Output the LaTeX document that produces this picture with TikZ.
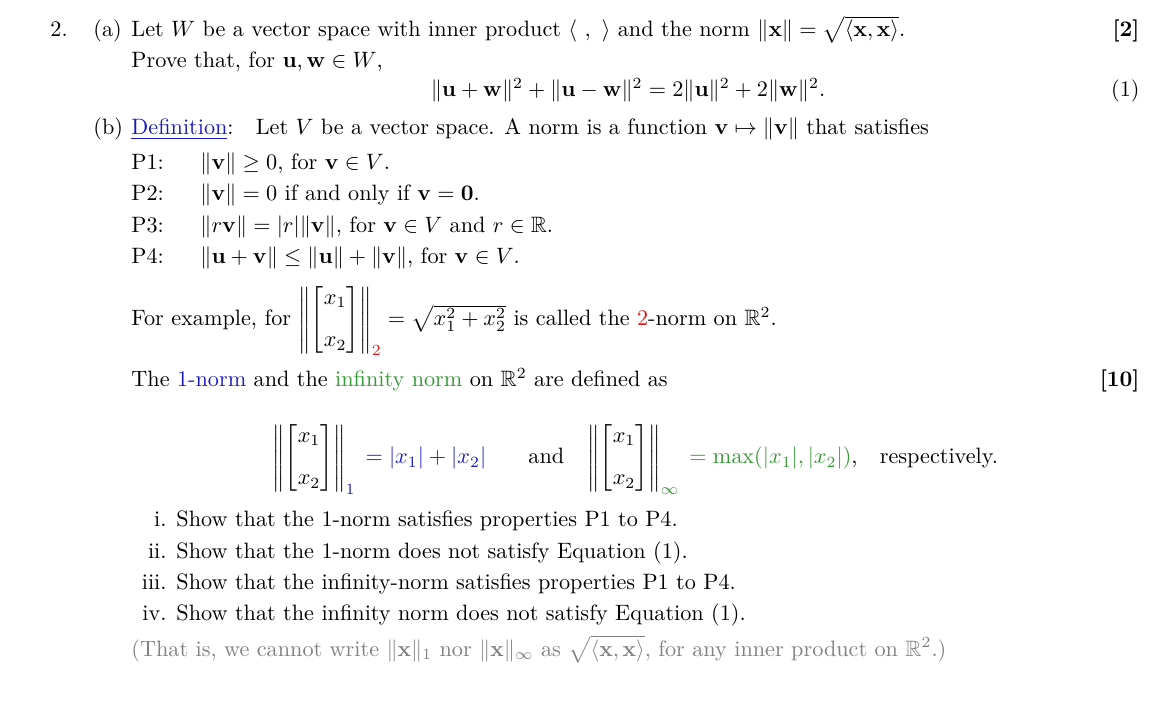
\documentclass[tikz,border=0pt]{standalone}
\usepackage{amsmath,amssymb}
\definecolor{nblue}{rgb}{0.1,0.1,0.75}
\definecolor{ngreen}{rgb}{0.2,0.6,0.2}
\definecolor{nred}{rgb}{0.9,0.1,0.1}
\definecolor{ngray}{rgb}{0.5,0.5,0.5}
\begin{document}
\begin{tikzpicture}[x=0.45pt,y=-0.45pt,
  t/.style={anchor=base west,inner sep=0pt},
  tr/.style={anchor=base east,inner sep=0pt},
  tc/.style={anchor=base,inner sep=0pt}]
\useasboundingbox (0,0) rectangle (1168,704);
\newcommand{\nrm}[1]{\lVert #1\rVert}
\node[t] (n2) at (50,37) {2.};
\node[t] (a) at (93,37) {(a)};
\node[t] (a1) at (131,37) {Let $W$ be a vector space with inner product $\langle\ ,\ \rangle$ and the norm $\nrm{\mathbf{x}}=\sqrt{\langle\mathbf{x},\mathbf{x}\rangle}$.};
\node[tr] (m2) at (1140,37) {\textbf{[2]}};
\node[t] (a2) at (131,68) {Prove that, for $\mathbf{u},\mathbf{w}\in W$,};
\node[tc] (eq1) at (628,97) {$\nrm{\mathbf{u}+\mathbf{w}}^2+\nrm{\mathbf{u}-\mathbf{w}}^2=2\nrm{\mathbf{u}}^2+2\nrm{\mathbf{w}}^2.$};
\node[tr] (e1) at (1140,97) {(1)};
\node[t] (b) at (93,135) {(b)};
\node[t] (b1) at (131,135) {\textcolor{nblue}{\underline{Definition}}:\quad Let $V$ be a vector space. A norm is a function $\mathbf{v}\mapsto\nrm{\mathbf{v}}$ that satisfies};
\node[t] (p1) at (131,170) {P1:};
\node[t] (q1) at (200,170) {$\nrm{\mathbf{v}}\ge0$, for $\mathbf{v}\in V$.};
\node[t] (p2) at (131,201) {P2:};
\node[t] (q2) at (200,201) {$\nrm{\mathbf{v}}=0$ if and only if $\mathbf{v}=\mathbf{0}$.};
\node[t] (p3) at (131,233) {P3:};
\node[t] (q3) at (200,233) {$\nrm{r\mathbf{v}}=|r|\nrm{\mathbf{v}}$, for $\mathbf{v}\in V$ and $r\in\mathbb{R}$.};
\node[t] (p4) at (131,264) {P4:};
\node[t] (q4) at (200,264) {$\nrm{\mathbf{u}+\mathbf{v}}\le\nrm{\mathbf{u}}+\nrm{\mathbf{v}}$, for $\mathbf{v}\in V$.};
\node[t] (ex) at (131,326) {For example, for $\left\|\begin{bmatrix}x_1\\[7pt]x_2\end{bmatrix}\right\|_{\textcolor{nred}{2}}=\sqrt{x_1^2+x_2^2}$ is called the \textcolor{nred}{2}-norm on $\mathbb{R}^2$.};
\node[t] (tn) at (131,387) {The \textcolor{nblue}{1-norm} and the \textcolor{ngreen}{infinity norm} on $\mathbb{R}^2$ are defined as};
\node[tr] (m10) at (1140,387) {\textbf{[10]}};
\node[t] (d1) at (272,464) {$\left\|\begin{bmatrix}x_1\\[7pt]x_2\end{bmatrix}\right\|_{\textcolor{nblue}{1}}\textcolor{nblue}{{}=|x_1|+|x_2|}$};
\node[t] (and) at (528,464) {and};
\node[t] (d2) at (587,464) {$\left\|\begin{bmatrix}x_1\\[7pt]x_2\end{bmatrix}\right\|_{\textcolor{ngreen}{\infty}}\textcolor{ngreen}{{}=\max(|x_1|,|x_2|)}$,\quad respectively.};
\node[tr] (i1) at (167,527) {i.};
\node[t] (j1) at (176,527) {Show that the 1-norm satisfies properties P1 to P4.};
\node[tr] (i2) at (167,558) {ii.};
\node[t] (j2) at (176,558) {Show that the 1-norm does not satisfy Equation (1).};
\node[tr] (i3) at (167,589) {iii.};
\node[t] (j3) at (176,589) {Show that the infinity-norm satisfies properties P1 to P4.};
\node[tr] (i4) at (167,620) {iv.};
\node[t] (j4) at (176,620) {Show that the infinity norm does not satisfy Equation (1).};
\node[t,text=ngray] (note) at (131,656) {(That is, we cannot write $\nrm{\mathbf{x}}_1$ nor $\nrm{\mathbf{x}}_\infty$ as $\sqrt{\langle\mathbf{x},\mathbf{x}\rangle}$, for any inner product on $\mathbb{R}^2$.)};
\end{tikzpicture}
\end{document}
